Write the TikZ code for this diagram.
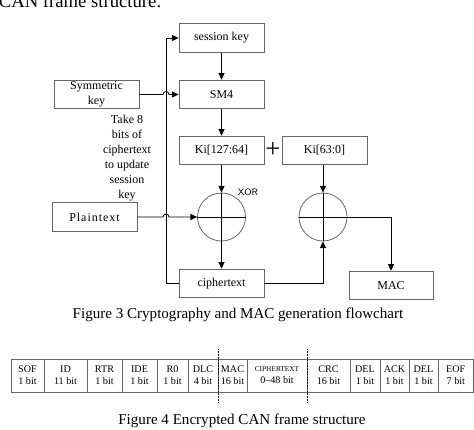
\documentclass[tikz,border=0pt]{standalone}
\usepackage{fontspec}
\setmainfont{Liberation Serif}
\newfontfamily\widefont[LetterSpace=8]{Liberation Serif}
\usetikzlibrary{calc}
\usetikzlibrary{arrows.meta}
\newcommand{\tinyword}[1]{{\fontsize{5.5}{6}\selectfont #1}}

\begin{document}
\begin{tikzpicture}[x=0.75pt,y=-0.75pt,line width=0.6pt,
  box/.style={draw=black!60, minimum width=63.75pt, minimum height=21.5pt, inner sep=0.5pt, align=center, font=\fontsize{9}{11.25}\selectfont},
  xorc/.style={draw=black!60, circle, minimum size=36pt, inner sep=0pt},
  arr/.style={-{Triangle[length=5pt,width=4.5pt]}, black},
  cell/.style={draw=black!60, minimum height=24.75pt, inner sep=0pt, align=center, font=\fontsize{7.6}{9}\selectfont},
  captext/.style={font=\fontsize{11.3}{13}\selectfont}]
\useasboundingbox (0,0) rectangle (474,429);

% text above the flowchart
\node[anchor=base east, font=\fontsize{14}{16}\selectfont] (prev) at (166,7) {CAN frame structure.};

% flowchart
\node[box] (seskey) at (221.5,38) {session key};
\node[box] (symkey) at (96.5,94.5) {Symmetric\\key};
\node[box] (sm4) at (221.5,94.5) {SM4};
\node[box] (kihi) at (221.5,150.5) {Ki[127:64]};
\node[box] (kilo) at (324.5,150.5) {Ki[63:0]};
\node[font=\fontsize{20}{20}\selectfont, inner sep=0pt] (plus) at (273,150) {+};
\node[box, font=\widefont\fontsize{9}{11}\selectfont] (plain) at (94.5,217) {Plaintext};
\node[xorc] (xor1) at (221.5,217) {};
\node[xorc] (xor2) at (323,217) {};
\node[font=\sffamily\fontsize{7}{8}\selectfont] (xorlbl) at (248,192) {XOR};
\node[box] (cipher) at (221.5,283.5) {ciphertext};
\node[box, minimum width=63pt] (mac) at (391,285.5) {MAC};
\node[align=center, font=\fontsize{9}{11.25}\selectfont] (note) at (127,158) {Take 8\\bits of\\ciphertext\\to update\\session\\key};
\coordinate (bus) at (166,0);

\draw[arr] (seskey) -- (sm4);
\draw[arr] (sm4) -- (kihi);
\draw[arr] (kihi) -- (xor1.north);
\draw[arr] (xor1.north) -- (cipher);
\draw (xor1.west) -- (xor1.east);
\draw[arr] (kilo.south -| xor2) -- (xor2.north);
\draw (xor2.north) -- (xor2.south);
\draw (xor2.west) -- (xor2.east);
\draw[arr] (cipher.east) -| (xor2.south);
\draw[arr] (xor2.east) -| (mac.north);
\draw[arr] (cipher.west) -- (cipher.west -| bus) |- (seskey.west);
\draw[arr] (symkey.east) -- ($(symkey.east -| bus)+(-3,0)$) arc[start angle=180, end angle=360, radius=3] -- (sm4.west);
\draw[arr] (plain.east) -- ($(plain.east -| bus)+(-3,0)$) arc[start angle=180, end angle=360, radius=3] -- (xor1.west);

\node[captext, anchor=base] (cap3) at (238,318) {Figure 3 Cryptography and MAC generation flowchart};

% frame fields
\foreach \l/\r/\up/\dn [count=\i] in {11/44/SOF/1 bit, 44/87/ID/11 bit, 87/122/RTR/1 bit,
    122/157/IDE/1 bit, 157/188/R0/1 bit, 188/218/DLC/4 bit, 218/247/MAC/16 bit,
    247/307/\tinyword{CIPHERTEXT}/0--48 bit, 307/350/CRC/16 bit, 350/380/DEL/1 bit,
    380/409/ACK/1 bit, 409/438/DEL/1 bit, 438/473.6/EOF/7 bit} {
  \pgfmathsetmacro{\w}{(\r-\l)*0.75}
  \node[cell, minimum width=\w pt] (f\i) at ({(\l+\r)/2},375.5) {\up\\\dn};
}
\draw[line width=0.9pt, dash pattern=on 1.2pt off 0.9pt] ($(f6.north east)+(0,-10)$) -- ($(f6.south east)+(0,10)$);
\draw[line width=0.9pt, dash pattern=on 1.2pt off 0.9pt] ($(f8.north east)+(0,-10)$) -- ($(f8.south east)+(0,10)$);

\node[captext, anchor=base] (cap4) at (242,424) {Figure 4 Encrypted CAN frame structure};
\end{tikzpicture}
\end{document}
